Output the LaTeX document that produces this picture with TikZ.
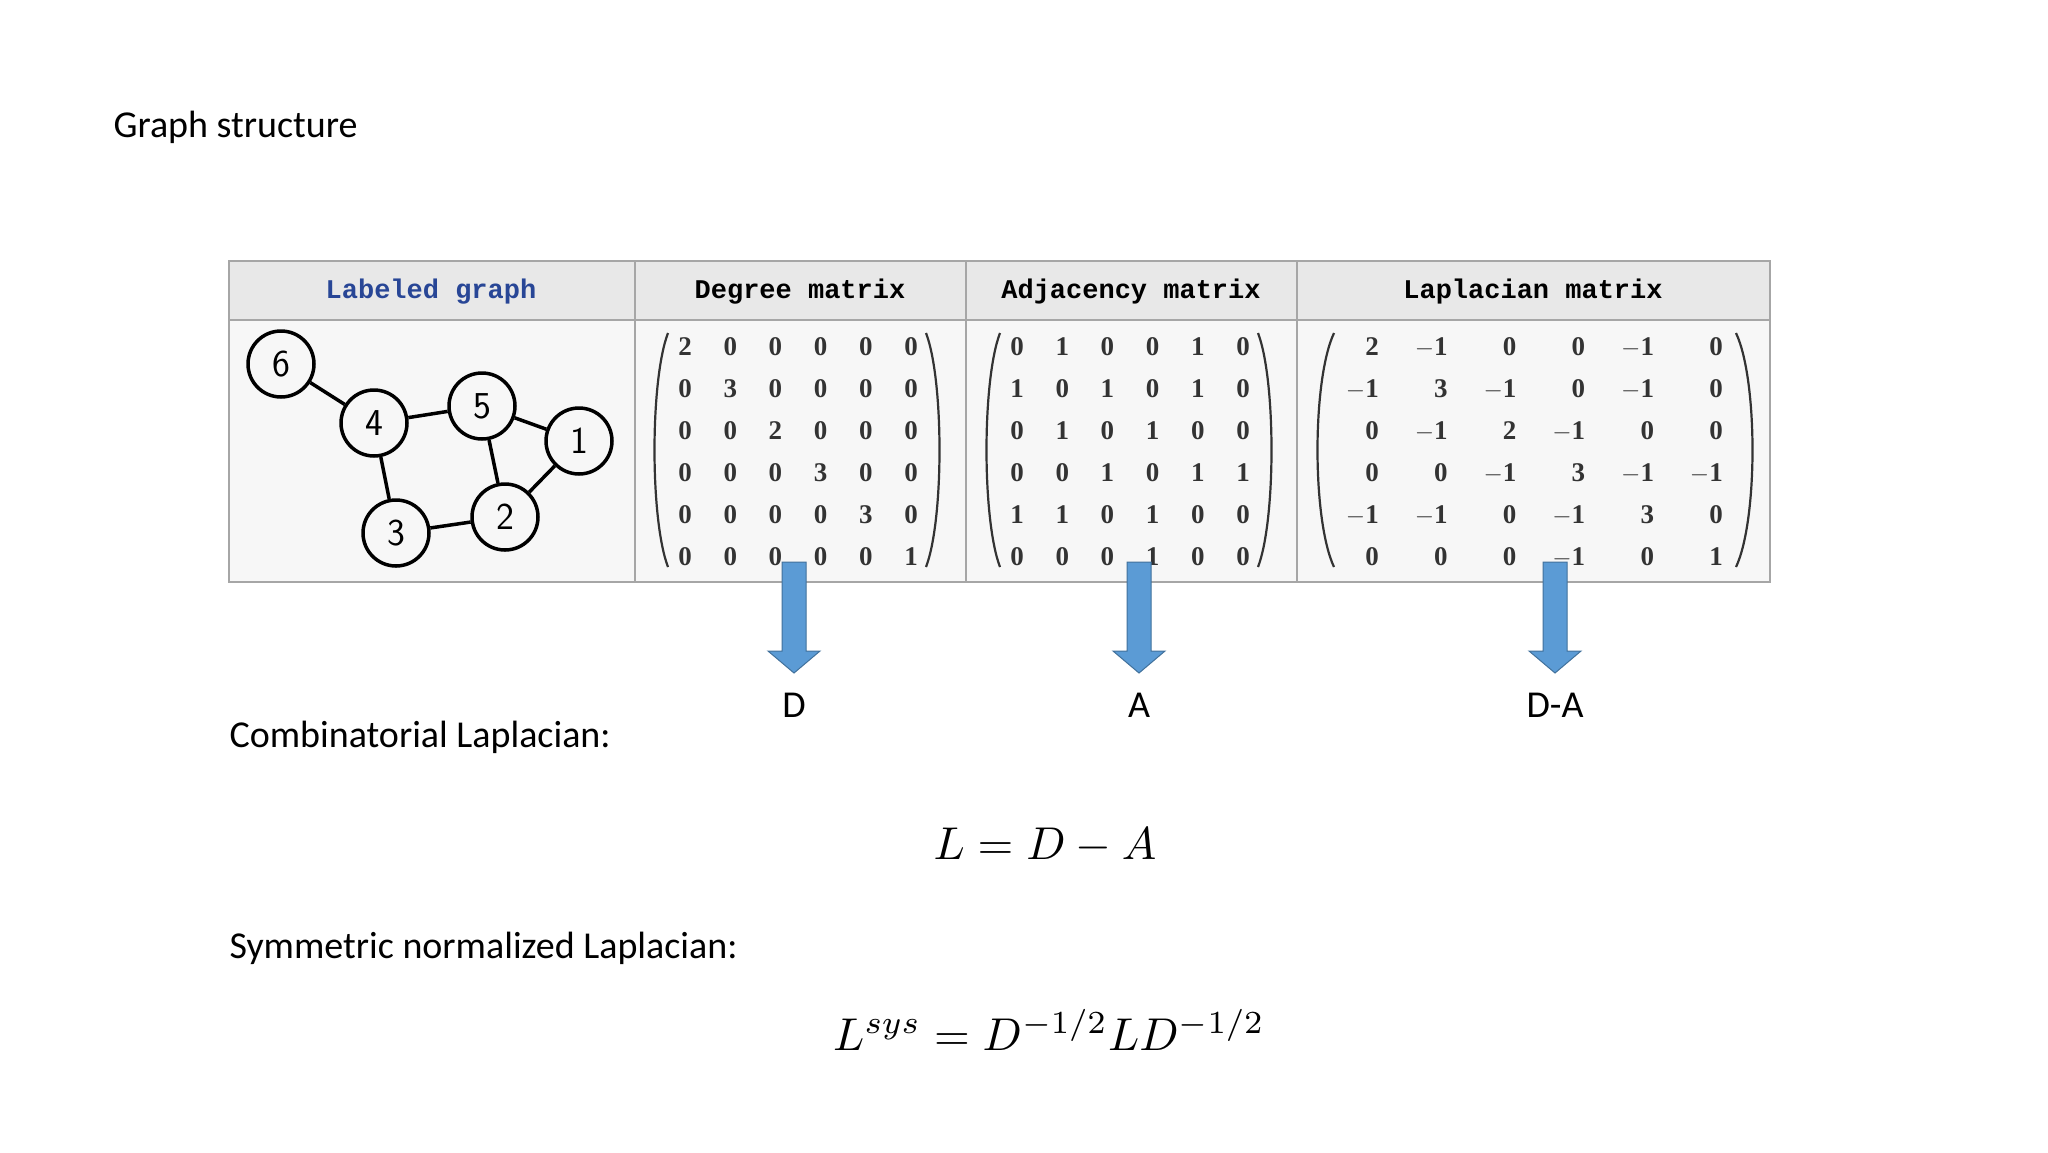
\documentclass[tikz,border=0pt]{standalone}
\usepackage{graphicx}
\usepackage{fontspec}
\setmainfont{Carlito}
\newfontfamily\mtxfont{Liberation Serif}
\newfontfamily\hdrfont{Liberation Mono}
\begin{document}
\begin{tikzpicture}[x=1pt,y=-1pt,
  lbl/.style={font=\fontsize{38}{44}\selectfont},
  hdr/.style={font=\hdrfont\bfseries\fontsize{27}{32}\selectfont},
  ent/.style={font=\mtxfont\bfseries\fontsize{27}{30}\selectfont,text=black!80,inner sep=0pt,anchor=base east},
  vtx/.style={circle,draw,line width=3.5pt,minimum size=66pt,inner sep=0pt,font=\fontsize{38}{40}\selectfont\sffamily},
  edge/.style={line width=3.5pt},
  paren/.style={line width=2.2pt,black!80},
  barrow/.style={fill={rgb,255:red,91;green,155;blue,213},draw={rgb,255:red,65;green,113;blue,156},line width=1pt}]
\useasboundingbox (0,0) rectangle (2048,1152);
\fill[white] (0,0) rectangle (2048,1152);
\node[lbl,anchor=west] (title) at (110,127) {Graph structure};
% table
\fill[black!3] (229,261) rectangle (1770,582);
\fill[black!9] (229,261) rectangle (1770,320);
\draw[black!35,line width=1.5pt] (229,261) rectangle (1770,582);
\draw[black!35,line width=1.5pt] (229,320) -- (1770,320);
\foreach \x in {635,966,1297} \draw[black!35,line width=1.5pt] (\x,261) -- (\x,582);
\node[hdr,text={rgb,255:red,40;green,70;blue,150}] (h1) at (431,292) {Labeled graph};
\node[hdr] (h2) at (800,292) {Degree matrix};
\node[hdr] (h3) at (1131,292) {Adjacency matrix};
\node[hdr] (h4) at (1533,292) {Laplacian matrix};
% graph
\node[vtx] (n6) at (281,364) {6};
\node[vtx] (n4) at (374,423) {4};
\node[vtx] (n5) at (482,406) {5};
\node[vtx] (n1) at (579,441) {1};
\node[vtx] (n3) at (396,533) {3};
\node[vtx] (n2) at (505,517) {2};
\foreach \a/\b in {n6/n4,n4/n5,n5/n1,n5/n2,n1/n2,n4/n3,n3/n2} \draw[edge] (\a) -- (\b);
% degree matrix
\foreach \r [count=\i] in {{2,0,0,0,0,0},{0,3,0,0,0,0},{0,0,2,0,0,0},{0,0,0,3,0,0},{0,0,0,0,3,0},{0,0,0,0,0,1}}{
  \foreach \v [count=\j] in \r { \node[ent] (d\i\j) at ({684+45.2*(\j-1)+8},{355+42*(\i-1)}) {\v}; } }
\draw[paren] (668,333) .. controls (650,380) and (650,520) .. (668,567);
\draw[paren] (926,333) .. controls (944,380) and (944,520) .. (926,567);
% adjacency
\foreach \r [count=\i] in {{0,1,0,0,1,0},{1,0,1,0,1,0},{0,1,0,1,0,0},{0,0,1,0,1,1},{1,1,0,1,0,0},{0,0,0,1,0,0}}{
  \foreach \v [count=\j] in \r { \node[ent] (a\i\j) at ({1016+45.2*(\j-1)+8},{355+42*(\i-1)}) {\v}; } }
\draw[paren] (1000,333) .. controls (982,380) and (982,520) .. (1000,567);
\draw[paren] (1258,333) .. controls (1276,380) and (1276,520) .. (1258,567);
% laplacian
\foreach \r [count=\i] in {{2,$-$1,0,0,$-$1,0},{$-$1,3,$-$1,0,$-$1,0},{0,$-$1,2,$-$1,0,0},{0,0,$-$1,3,$-$1,$-$1},{$-$1,$-$1,0,$-$1,3,0},{0,0,0,$-$1,0,1}}{
  \foreach \v [count=\j] in \r { \node[ent] (l\i\j) at ({1371+68.8*(\j-1)+8},{355+42*(\i-1)}) {\v}; } }
\draw[paren] (1334,333) .. controls (1312,380) and (1312,520) .. (1334,567);
\draw[paren] (1736,333) .. controls (1758,380) and (1758,520) .. (1736,567);
% arrows
\foreach \cx/\nm in {794/ad,1139/aa,1555/al}{
  \draw[barrow] (\cx-12,562) -- (\cx+12,562) -- (\cx+12,651) -- (\cx+26,651) -- (\cx,673) -- (\cx-26,651) -- (\cx-12,651) -- cycle;
  \coordinate (\nm) at (\cx,705);
}
\node[lbl] (lD) at (ad) {D};
\node[lbl] (lA) at (aa) {A};
\node[lbl] (lDA) at (al) {D-A};
\node[lbl,anchor=west] (comb) at (226,737) {Combinatorial Laplacian:};
\node (eq1) at (1045,846) {\scalebox{4.6}{$L = D - A$}};
\node[lbl,anchor=west] (sym) at (226,948) {Symmetric normalized Laplacian:};
\node (eq2) at (1049,1030) {\scalebox{4.6}{$L^{sys} = D^{-1/2} L D^{-1/2}$}};
\end{tikzpicture}
\end{document}
